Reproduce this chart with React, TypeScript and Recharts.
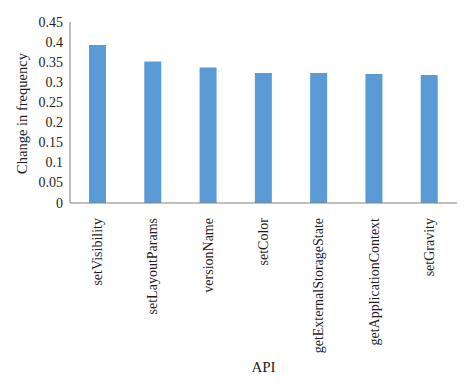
import React from 'react';
import { BarChart, Bar, XAxis, YAxis, Label } from 'recharts';

const categories = ['setVisibility', 'setLayoutParams', 'versionName', 'setColor', 'getExternalStorageState', 'getApplicationContext', 'setGravity'];
const values = [0.393, 0.352, 0.337, 0.323, 0.323, 0.321, 0.318];
const yTicks = [0, 0.05, 0.1, 0.15, 0.2, 0.25, 0.3, 0.35, 0.4, 0.45];
const yTickLabels = ['0', '0.05', '0.1', '0.15', '0.2', '0.25', '0.3', '0.35', '0.4', '0.45'];

const data = categories.map((name, i) => ({ name, value: values[i] }));

const FONT = '"Liberation Serif", "Times New Roman", serif';

const XTick = (props: any) => {
  const { x, y, payload } = props;
  return (
    <text
      x={x}
      y={y + 7}
      transform={`rotate(-90, ${x}, ${y + 7})`}
      textAnchor="end"
      dominantBaseline="central"
      fontFamily={FONT}
      fontSize={14}
      fill="#1e1e1e"
    >
      {payload.value}
    </text>
  );
};

const YTick = (props: any) => {
  const { x, y, payload } = props;
  const idx = yTicks.indexOf(payload.value);
  return (
    <text x={x + 1} y={y} textAnchor="end" dominantBaseline="central" fontFamily={FONT} fontSize={14} fill="#1e1e1e">
      {idx >= 0 ? yTickLabels[idx] : payload.value}
    </text>
  );
};

const YLabel = (props: any) => {
  const vb = props.viewBox;
  const cy = vb.y + vb.height / 2 + 1;
  const cx = 22;
  return (
    <text x={cx} y={cy} transform={`rotate(-90, ${cx}, ${cy})`} textAnchor="middle" dominantBaseline="central" fontFamily={FONT} fontSize={14.5} fill="#1e1e1e">
      Change in frequency
    </text>
  );
};

export default function App() {
  return (
    <div style={{ position: 'absolute', left: 0, top: 0, background: '#fff' }}>
      <BarChart width={474} height={388} data={data} margin={{ top: 22, right: 17, bottom: 0, left: 0 }}>
        <XAxis
          dataKey="name"
          interval={0}
          height={185}
          tickLine={false}
          stroke="#808080"
          tick={<XTick />}
        >
          <Label value="API" position="insideBottom" offset={16} style={{ fontFamily: FONT, fontSize: 15, fill: '#1e1e1e' }} />
        </XAxis>
        <YAxis
          width={70}
          domain={[0, 0.45]}
          ticks={yTicks}
          interval={0}
          tickLine={false}
          stroke="#808080"
          tick={<YTick />}
          label={<YLabel />}
        />
        <Bar dataKey="value" fill="#5B9BD5" barSize={17} isAnimationActive={false} />
      </BarChart>
    </div>
  );
}
